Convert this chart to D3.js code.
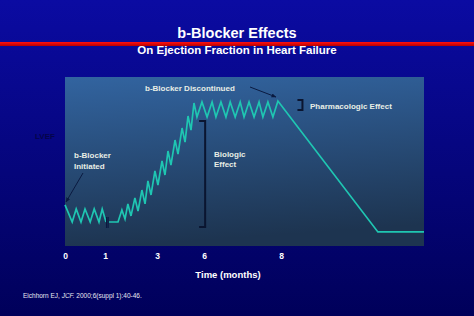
<!DOCTYPE html>
<html><head><meta charset="utf-8">
<script src="https://cdn.jsdelivr.net/npm/d3@7"></script>
<style>html,body{margin:0;padding:0;background:#05057a;}svg{display:block;}</style>
</head><body>
<svg id="c" width="474" height="316"></svg>
<script>
// ---- data ----
const tickMonths = [0, 1, 3, 6, 8];
const tickLabels = ["0", "1", "3", "6", "8"];
// baseline (before break): months, LVEF (arbitrary 0-100 units)
const baseMonths = [0, 0.18, 0.28, 0.40, 0.50, 0.63, 0.73, 0.85, 0.93, 1.04];
const baseLVEF   = [24.3, 14.2, 21.9, 14.2, 21.9, 14.2, 21.9, 14.2, 21.9, 14.2];
// after break: rise, plateau, withdrawal
const courseMonths = [1.15, 1.50, 1.65, 1.77, 1.88, 2.00, 2.15, 2.27, 2.42, 2.54, 2.65, 2.77, 2.92, 3.06,
  3.32, 3.51, 3.70, 3.89, 4.15, 4.34, 4.60, 4.79, 4.98, 5.17, 5.36,
  5.55, 5.87, 6.08, 6.21, 6.31, 6.44, 6.57, 6.68, 6.81, 6.94, 7.04, 7.17, 7.30, 7.43, 7.53, 7.66, 7.79, 7.92,
  10.71, 12.0];
const courseLVEF = [14.2, 14.2, 21.3, 16.0, 24.9, 17.8, 28.4, 20.7, 33.1, 24.9, 38.5, 30.2, 44.4, 36.1,
  50.3, 42.0, 56.2, 47.9, 62.7, 54.4, 69.8, 61.5, 76.9, 68.6, 84.6,
  76.3, 85.2, 76.3, 85.2, 76.3, 85.2, 76.3, 85.2, 76.3, 85.2, 76.3, 85.2, 76.3, 85.2, 76.3, 85.2, 76.3, 85.8,
  8.3, 8.3];
// brackets (LVEF range)
const biologicRange = [74.0, 11.2];
const pharmacoRange = [86.4, 80.5];

// ---- drawing ----
const svg = d3.select("#c");
const W = 474, H = 316;
const defs = svg.append("defs");
const bg = defs.append("linearGradient").attr("id","bg").attr("x1",0).attr("y1",0).attr("x2",0).attr("y2",1);
bg.append("stop").attr("offset","0%").attr("stop-color","#0b0ba2");
bg.append("stop").attr("offset","100%").attr("stop-color","#00005a");
const pg = defs.append("linearGradient").attr("id","pg").attr("x1",0).attr("y1",0).attr("x2",0.15).attr("y2",1);
pg.append("stop").attr("offset","0%").attr("stop-color","#3264a0");
pg.append("stop").attr("offset","100%").attr("stop-color","#1d3450");
const rg = defs.append("linearGradient").attr("id","rg").attr("x1",0).attr("y1",0).attr("x2",0).attr("y2",1);
rg.append("stop").attr("offset","0%").attr("stop-color","#ff1010");
rg.append("stop").attr("offset","100%").attr("stop-color","#b80000");
const mk = defs.append("marker").attr("id","ah").attr("viewBox","0 0 10 10").attr("refX",9).attr("refY",5)
  .attr("markerWidth",5).attr("markerHeight",5).attr("orient","auto");
mk.append("path").attr("d","M0,1L10,5L0,9Z").attr("fill","#0a1a40");

svg.append("rect").attr("width",W).attr("height",H).attr("fill","url(#bg)");

// title
svg.append("rect").attr("x",0).attr("y",42).attr("width",W).attr("height",4).attr("fill","url(#rg)");
svg.append("text").attr("x",237).attr("y",38).attr("text-anchor","middle")
  .attr("font-family","Liberation Sans, Arial, sans-serif").attr("font-weight","bold").attr("font-size",14.5)
  .attr("fill","#ffffff").text("b-Blocker Effects");
svg.append("text").attr("x",237).attr("y",54).attr("text-anchor","middle")
  .attr("font-family","Liberation Sans, Arial, sans-serif").attr("font-weight","bold").attr("font-size",11.5)
  .attr("fill","#ffffff").text("On Ejection Fraction in Heart Failure");

const plot = {l:65, t:77, r:424, b:246};
const x = d3.scaleLinear().domain([0,1,3,6,8,12]).range([65,105,157,204,281,424]);
const y = d3.scaleLinear().domain([0,100]).range([plot.b, plot.b-169]);

svg.append("rect").attr("x",plot.l).attr("y",plot.t).attr("width",plot.r-plot.l).attr("height",plot.b-plot.t)
  .attr("fill","url(#pg)");

const line = d3.line().x(d=>x(d[0])).y(d=>y(d[1]));
const teal = "#1fc6b2";
svg.append("path").datum(baseMonths.map((m,i)=>[m, baseLVEF[i]])).attr("d",line)
  .attr("fill","none").attr("stroke",teal).attr("stroke-width",1.7).attr("stroke-linejoin","miter");
svg.append("path").datum(courseMonths.map((m,i)=>[m, courseLVEF[i]])).attr("d",line)
  .attr("fill","none").attr("stroke",teal).attr("stroke-width",1.7).attr("stroke-linejoin","miter");

// break marks
const dark = "#0a1a40";
[1.06, 1.12].forEach(m=>{
  svg.append("line").attr("x1",x(m)).attr("x2",x(m)).attr("y1",y(14.2)-5).attr("y2",y(14.2)+6)
    .attr("stroke",dark).attr("stroke-width",1.2);
});

// biologic bracket
const bx = x(6.03);
svg.append("path").attr("d",`M${bx-6},${y(biologicRange[0])}H${bx}V${y(biologicRange[1])}H${bx-6}`)
  .attr("fill","none").attr("stroke","#0a1530").attr("stroke-width",2);
// pharmacologic bracket
const px = x(8.6);
svg.append("path").attr("d",`M${px-5},${y(pharmacoRange[0])}H${px}V${y(pharmacoRange[1])}H${px-5}`)
  .attr("fill","none").attr("stroke","#0a1530").attr("stroke-width",2);

const font = "Liberation Sans, Arial, sans-serif";
const lab = "#e8eee6";
function t(xp, yp, s, size, opts={}) {
  const e = svg.append("text").attr("x",xp).attr("y",yp).attr("font-family",font)
    .attr("font-weight","bold").attr("font-size",size).attr("fill",opts.fill||lab)
    .attr("text-anchor",opts.anchor||"start").text(s);
  return e;
}
t(145, 90.5, "b-Blocker Discontinued", 8);
t(74, 158, "b-Blocker", 8);
t(74, 169, "Initiated", 8);
t(214, 157, "Biologic", 8);
t(214, 167, "Effect", 8);
t(310, 108.5, "Pharmacologic Effect", 8);
t(45, 139, "LVEF", 8, {anchor:"middle", fill:"#04044a"});

// arrows
svg.append("line").attr("x1",250).attr("y1",87).attr("x2",276).attr("y2",97)
  .attr("stroke",dark).attr("stroke-width",1).attr("marker-end","url(#ah)");
svg.append("line").attr("x1",83).attr("y1",173).attr("x2",66).attr("y2",202)
  .attr("stroke",dark).attr("stroke-width",1).attr("marker-end","url(#ah)");

// x axis
const ax = svg.append("g").attr("transform",`translate(0,${plot.b})`)
  .call(d3.axisBottom(x).tickValues(tickMonths).tickFormat((d,i)=>tickLabels[i]).tickSize(0).tickPadding(7));
ax.select(".domain").remove();
ax.selectAll("text").attr("font-family",font).attr("font-weight","bold").attr("font-size",8.5).attr("fill","#ffffff");

t(228, 278, "Time (months)", 9.5, {anchor:"middle", fill:"#ffffff"});

const cit = svg.append("text").attr("x",23).attr("y",298).attr("font-family",font).attr("font-size",6.5).attr("fill","#e8e8f0");
cit.append("tspan").text("Eichhorn EJ, ");
cit.append("tspan").attr("font-style","italic").text("JCF.");
cit.append("tspan").text(" 2000;6(suppl 1):40-46.");
</script>
</body></html>
